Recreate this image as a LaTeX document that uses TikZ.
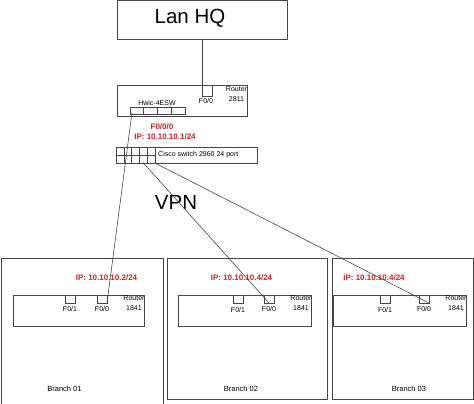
\documentclass[tikz,border=0pt]{standalone}
\usepackage{fontspec}
\setmainfont{Liberation Sans}
\usetikzlibrary{calc}
\definecolor{ipred}{RGB}{205,35,35}
\definecolor{edge}{RGB}{70,70,70}
\begin{document}
\begin{tikzpicture}[x=1pt,y=-1pt,
  box/.style={draw=edge,line width=0.7pt,anchor=north west,inner sep=0pt,outer sep=0pt},
  port/.style={draw=edge,line width=0.6pt,anchor=north west,minimum width=10pt,minimum height=8pt,inner sep=0pt,outer sep=0pt},
  lbl/.style={font=\fontsize{7}{9.5}\selectfont,inner sep=0pt,align=center},
  brlbl/.style={font=\fontsize{7.5}{9}\selectfont,inner sep=0pt},
  iplbl/.style={font=\fontsize{8}{9}\selectfont\bfseries,text=ipred,inner sep=0pt},
  link/.style={draw=edge,line width=0.6pt},
  big/.style={font=\fontsize{20.5}{22}\selectfont,inner sep=0pt}]
\useasboundingbox (0,0) rectangle (474,404);
\fill[white] (0,0) rectangle (474,404);

% HQ
\node[box,minimum width=170pt,minimum height=38.5pt] (hq) at (117,0.5) {};
\node[big] (hqt) at (190,18) {Lan HQ};

% Router 2811
\node[box,minimum width=130pt,minimum height=31pt] (r0) at (117,85) {};
\node[port,minimum height=11pt] (p0) at (202,85) {};
\node[lbl] (p0l) at (206,101) {F0/0};
\node[lbl] (r0l) at (236.5,94) {Router\\2811};
\node[lbl] (hwt) at (157,102.5) {Hwic-4ESW};
\node[box,minimum width=55pt,minimum height=7pt] (hw) at (130,107) {};
\foreach \i in {1,2,3} \draw[edge,line width=0.6pt] ($(hw.north west)+(13.75*\i,0)$) -- ($(hw.south west)+(13.75*\i,0)$);
\draw[link] (hq.south) -- (p0.north west);

\node[iplbl] (ip0a) at (162,127) {F0/0/0};
\node[iplbl] (ip0b) at (165,136.5) {IP: 10.10.10.1/24};

% Switch
\node[box,minimum width=141pt,minimum height=16pt] (swb) at (116,147) {};
\node[box,minimum width=39pt,minimum height=16pt] (sw) at (116,147) {};
\foreach \i in {1,2,3,4} \draw[edge,line width=0.6pt] ($(sw.north west)+(7.8*\i,0)$) -- ($(sw.south west)+(7.8*\i,0)$);
\draw[edge,line width=0.6pt] (sw.west) -- (sw.east);
\node[lbl,anchor=west] (swt) at (158,155) {Cisco switch 2960 24 port};

\node[big] (vpn) at (176,202) {VPN};

% Branches
\node[box,minimum width=161.5pt,minimum height=160pt] (b1) at (1.5,258) {};
\node[box,minimum width=160pt,minimum height=141pt] (b2) at (167,258) {};
\node[box,minimum width=141pt,minimum height=141pt] (b3) at (332,258) {};

\node[box,minimum width=131pt,minimum height=31pt] (r1) at (13,295) {};
\node[box,minimum width=133pt,minimum height=31pt] (r2) at (178,295) {};
\node[box,minimum width=133pt,minimum height=31pt] (r3) at (333,295) {};

\node[port] (a1) at (65,295) {};
\node[port] (c1) at (97,295) {};
\node[port] (a2) at (233,295) {};
\node[port] (c2) at (264,295) {};
\node[port] (a3) at (380,295) {};
\node[port] (c3) at (419,295) {};

\node[lbl] (a1l) at (70,309) {F0/1};
\node[lbl] (c1l) at (102,309) {F0/0};
\node[lbl] (a2l) at (238,309.5) {F0/1};
\node[lbl] (c2l) at (269,309) {F0/0};
\node[lbl] (a3l) at (385,309.5) {F0/1};
\node[lbl] (c3l) at (424,309) {F0/0};

\node[lbl] (r1l) at (134,303) {Router\\1841};
\node[lbl] (r2l) at (301,303) {Router\\1841};
\node[lbl] (r3l) at (456,303) {Router\\1841};

\node[iplbl] (ip1) at (106.5,278) {IP: 10.10.10.2/24};
\node[iplbl] (ip2) at (241.5,278) {IP: 10.10.10.4/24};
\node[iplbl] (ip3) at (374,278) {IP: 10.10.10.4/24};

\node[brlbl] (b1l) at (64.5,389) {Branch 01};
\node[brlbl] (b2l) at (241,389) {Branch 02};
\node[brlbl] (b3l) at (409,389) {Branch 03};

% Links
\coordinate (h1) at (132,112.5);
\coordinate (s2) at (143,162.5);
\coordinate (s3) at (155,163);
\draw[link] (h1) -- (c1.south east);
\draw[link] (s2) -- (c2.south);
\draw[link] (s3) -- (c3.south east);
\end{tikzpicture}
\end{document}
